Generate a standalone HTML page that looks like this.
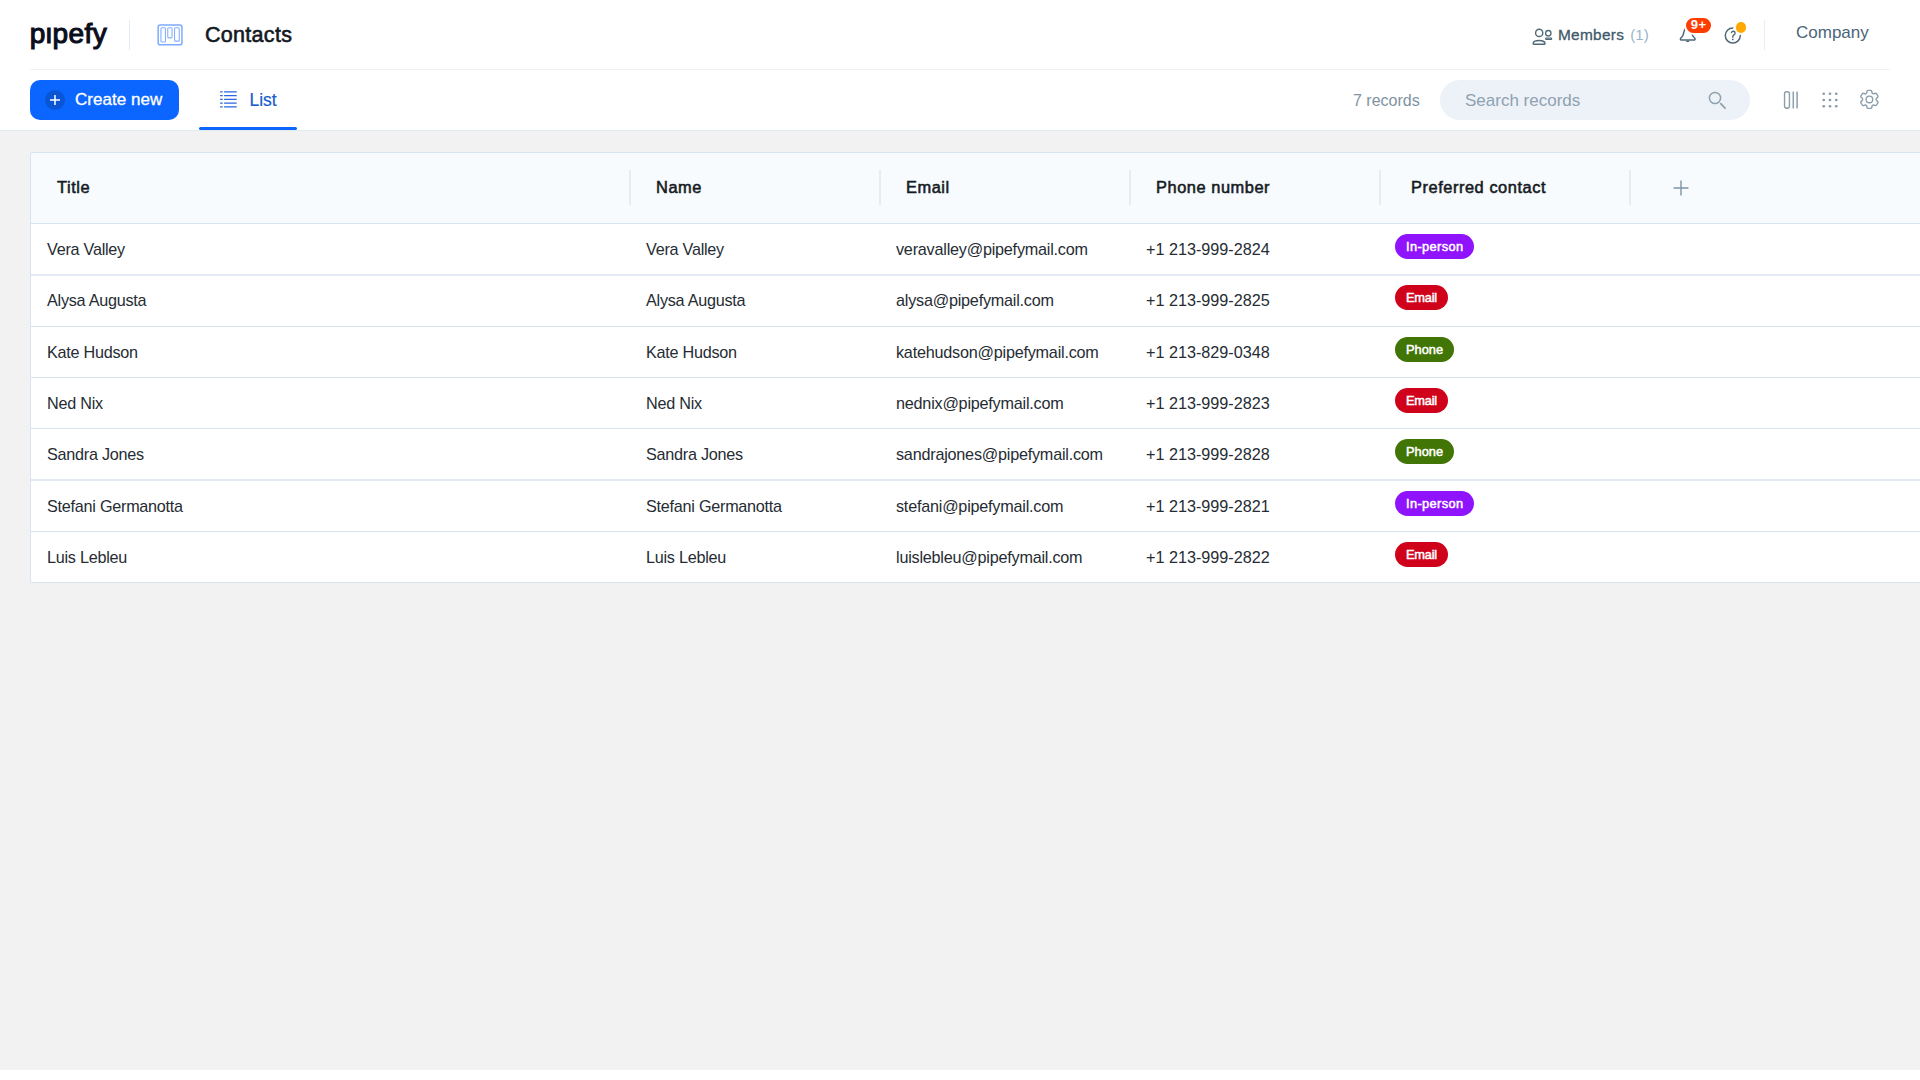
<!DOCTYPE html>
<html><head><meta charset="utf-8"><title>Contacts</title>
<style>
*{box-sizing:border-box;margin:0;padding:0}
html,body{width:1920px;height:1080px;overflow:hidden;background:#fff;font-family:"Liberation Sans",Arial,sans-serif;}
.abs{position:absolute}
#nav{position:absolute;left:0;top:0;width:1920px;height:70px;background:#fff}
#navline{position:absolute;left:30px;top:69px;width:1860px;height:1px;background:#eef2f7}
#logo{position:absolute;left:29.8px;top:14px;font-weight:400;font-size:28px;-webkit-text-stroke:1.1px #0b0d1c;letter-spacing:.45px;color:#0b0d1c;line-height:40px}
#logo .nd{display:inline-block;clip-path:inset(12px 0 0 0)}
#sep1{position:absolute;left:129px;top:20px;width:1px;height:30px;background:#e3edf9}
#title{position:absolute;left:205px;top:20px;font-weight:400;font-size:21.5px;-webkit-text-stroke:.6px #141821;letter-spacing:.3px;color:#141821;line-height:30px}
#toolbar{position:absolute;left:0;top:70px;width:1920px;height:61px;background:#fff;border-bottom:1px solid #e1ebf2}
#create{position:absolute;left:30px;top:80px;width:149px;height:40px;border-radius:10px;background:#0b66ff}
#create .c{position:absolute;left:15px;top:10px;width:20px;height:20px;border-radius:50%;background:#0a55d4}
#create .t{position:absolute;left:45px;top:0;line-height:40px;font-size:17px;-webkit-text-stroke:.3px #fff;letter-spacing:.05px;color:#fff}
#list{position:absolute;left:249.5px;top:84.5px;font-size:17.5px;-webkit-text-stroke:.2px #1a5ccc;color:#1a5ccc;line-height:30px}
#uline{position:absolute;left:199px;top:127px;width:98px;height:3px;border-radius:2px;background:#0b66ff}
#main{position:absolute;left:0;top:131px;width:1920px;height:939px;background:#f2f2f2}
#recs{position:absolute;left:1353px;top:86px;font-size:16px;color:#8093a2;line-height:30px}
#search{position:absolute;left:1440px;top:80px;width:310px;height:40px;border-radius:20px;background:#edf1f8}
#search .t{position:absolute;left:25px;top:1px;line-height:40px;font-size:17px;color:#8ea2b1}
#members{position:absolute;left:1558px;top:20px;font-size:15.4px;font-weight:400;-webkit-text-stroke:.32px #3f5a6b;letter-spacing:.3px;color:#3f5a6b;line-height:30px}
#members span{-webkit-text-stroke:0;letter-spacing:0;font-size:15px;color:#9bb5c8;margin-left:1.5px}
#company{position:absolute;left:1796px;top:18px;font-size:17px;color:#4a657a;line-height:30px}
#sep2{position:absolute;left:1764px;top:20px;width:1px;height:30px;background:#e6edf7}
#badge{position:absolute;left:1684px;top:15.8px;width:29px;height:19.2px;border:2px solid #fff;border-radius:10px;background:#ff3d00;color:#fff;font-size:13px;font-weight:700;line-height:13.8px;text-align:center;letter-spacing:.6px;text-indent:.6px}
#dot{position:absolute;left:1735.85px;top:22.3px;width:10.3px;height:10.3px;border-radius:50%;background:#ffa800}
/* table */
#tbl{position:absolute;left:30px;top:152px;width:1900px;background:#fff;border:1px solid #d7e3ee;border-right:none;border-radius:2px 0 0 2px;}
#thead{position:relative;height:71px;background:#f7fbfe;border-bottom:1px solid #d7e3ee}
.th{position:absolute;top:0;line-height:69px;font-size:16.4px;font-weight:400;-webkit-text-stroke:.55px #151a22;letter-spacing:.55px;color:#151a22}
.hs{position:absolute;top:17px;width:2px;height:35px;background:#e9ecef}
.row{position:relative;height:51.333px}
.ln{position:absolute;left:0;right:0;height:1px}
.row:nth-child(7){height:50.4px}
.td{position:absolute;top:0;height:100%;display:flex;align-items:center;font-size:16.2px;letter-spacing:-.25px;color:#262c33;white-space:nowrap}
.bd{position:absolute;top:10px;height:25px;border-radius:13px;color:#fff;font-size:12.8px;font-weight:400;-webkit-text-stroke:.5px #fff;line-height:25px;padding:0 11px}
.ip{background:#9013fe;letter-spacing:.38px}.em{background:#d0021b;letter-spacing:-.2px}.ph{background:#417505;letter-spacing:0px}
</style></head><body>
<div id="nav">
  <div id="logo">p<span class="nd">i</span>pefy</div>
  <div id="sep1"></div>
  <svg class="abs" style="left:156px;top:23px" width="28" height="24" viewBox="0 0 28 24">
    <rect x="2.15" y="1.95" width="23.8" height="19.9" rx="2.2" fill="none" stroke="#7eaaff" stroke-width="1.5"/>
    <rect x="4.95" y="4.75" width="4.5" height="14.3" rx="1" fill="none" stroke="#86afff" stroke-width="1.1"/>
    <rect x="11.75" y="4.75" width="4.3" height="10.1" rx="1" fill="none" stroke="#86afff" stroke-width="1.1"/>
    <rect x="18.55" y="4.75" width="4.7" height="13.4" rx="1" fill="none" stroke="#86afff" stroke-width="1.1"/>
  </svg>
  <div id="title">Contacts</div>

  <svg class="abs" style="left:1531px;top:27px" width="23" height="19" viewBox="0 0 23 19">
    <circle cx="8.2" cy="5.9" r="3.6" fill="none" stroke="#4f6878" stroke-width="1.4"/>
    <path d="M2.2 16.4C2.2 14.6 4.9 13.5 8.1 13.5S14 14.6 14 16.4c0 .5-.3.8-.8.8H3c-.5 0-.8-.3-.8-.8z" fill="none" stroke="#4f6878" stroke-width="1.4"/>
    <circle cx="17.3" cy="6.2" r="2.7" fill="none" stroke="#4f6878" stroke-width="1.3"/>
    <rect x="14.6" y="11.2" width="6.1" height="1.3" rx=".65" fill="none" stroke="#4f6878" stroke-width="1.2"/>
  </svg>
  <div id="members">Members <span>(1)</span></div>

  <svg class="abs" style="left:1677px;top:20px" width="22" height="24" viewBox="0 0 22 24">
    <path d="M4.8 20.1H16.7C17.9 20.1 18.5 19.2 17.9 18.3C17.2 17.3 15.8 16.6 15.5 15.2L14.2 10.6C13.8 9.2 12.9 7.4 10.75 7.4C8.6 7.4 7.7 9.2 7.3 10.6L6 15.2C5.7 16.6 4.3 17.3 3.6 18.3C3 19.2 3.6 20.1 4.8 20.1Z" fill="none" stroke="#4f6878" stroke-width="1.5" stroke-linejoin="round"/>
    <path d="M8.9 20.6h3.6a1.8 1.7 0 0 1-3.6 0z" fill="#4f6878"/>
  </svg>
  <div id="badge">9+</div>

  <svg class="abs" style="left:1723px;top:25px" width="22" height="22" viewBox="0 0 22 22">
    <path d="M9.8 3.1A7.5 7.5 0 1 0 17.3 10.6" fill="none" stroke="#4f6878" stroke-width="1.5" stroke-linecap="round"/>
    <path d="M8.4 7.6C8.7 6.7 9.4 6.2 10.2 6.2C11.3 6.2 12.1 7 12.1 8.2C12.1 9.5 10.9 9.9 10.2 10.5C9.9 10.8 9.8 11.3 9.8 12.2" fill="none" stroke="#4f6878" stroke-width="1.35" stroke-linecap="round"/>
    <circle cx="9.8" cy="14.4" r=".85" fill="#4f6878"/>
  </svg>
  <div id="dot"></div>
  <div id="sep2"></div>
  <div id="company">Company</div>
  <div id="navline"></div>
</div>

<div id="toolbar"></div>
<div id="create"><div class="c"><svg class="abs" style="left:5px;top:5px" width="10" height="10" viewBox="0 0 10 10"><path d="M5 0v10M0 5h10" stroke="#fff" stroke-width="1.5"/></svg></div><div class="t">Create new</div></div>
<svg class="abs" style="left:219px;top:90px" width="19" height="19" viewBox="0 0 19 19">
  <g stroke="#2a66dc" stroke-width="1.25">
    <path d="M1.1 1.75h2.6M5.1 1.75h12.6M1.1 5.5h2.6M5.1 5.5h12.6M1.1 9.4h2.6M5.1 9.4h12.6M1.1 13.1h2.6M5.1 13.1h12.6M1.1 16.8h2.6M5.1 16.8h12.6"/>
  </g>
</svg>
<div id="list">List</div>
<div id="uline"></div>

<div id="recs">7 records</div>
<div id="search"><div class="t">Search records</div>
  <svg class="abs" style="left:268px;top:10.5px" width="20" height="20" viewBox="0 0 20 20">
    <circle cx="7" cy="7" r="5.6" fill="none" stroke="#8ea1ad" stroke-width="1.5"/>
    <path d="M12.7 12.7l4.4 4.4" stroke="#8ea1ad" stroke-width="1.7" stroke-linecap="round"/>
  </svg>
</div>
<svg class="abs" style="left:1782px;top:90px" width="18" height="20" viewBox="0 0 18 20">
  <rect x="2.55" y="1.8" width="4.9" height="16.4" rx="2.1" fill="none" stroke="#8a9eab" stroke-width="1.4"/>
  <path d="M11.3 1.5v17M15.1 1.5v17" stroke="#8a9eab" stroke-width="1.5"/>
</svg>
<svg class="abs" style="left:1820px;top:90px" width="20" height="20" viewBox="0 0 20 20">
  <g fill="#869aa7">
    <circle cx="3.75" cy="3.75" r="1.35"/><circle cx="10" cy="3.75" r="1.35"/><circle cx="16.25" cy="3.75" r="1.35"/>
    <circle cx="3.75" cy="10" r="1.35"/><circle cx="10" cy="10" r="1.35"/><circle cx="16.25" cy="10" r="1.35"/>
    <circle cx="3.75" cy="16.25" r="1.35"/><circle cx="10" cy="16.25" r="1.35"/><circle cx="16.25" cy="16.25" r="1.35"/>
  </g>
</svg>
<svg class="abs" style="left:1857px;top:87px" width="25" height="25" viewBox="-0.4 -0.4 25 25">
  <path fill="none" stroke="#8a9eab" stroke-width="1.4" stroke-linejoin="round" d="M9.594 3.94c.09-.542.56-.94 1.11-.94h2.593c.55 0 1.02.398 1.11.94l.213 1.281c.063.374.313.686.645.87.074.04.147.083.22.127.325.196.72.257 1.075.124l1.217-.456a1.125 1.125 0 0 1 1.37.49l1.296 2.247a1.125 1.125 0 0 1-.26 1.431l-1.003.827c-.293.241-.438.613-.43.992a7.723 7.723 0 0 1 0 .255c-.008.378.137.75.43.991l1.004.827c.424.35.534.955.26 1.43l-1.298 2.247a1.125 1.125 0 0 1-1.369.491l-1.217-.456c-.355-.133-.75-.072-1.076.124a6.47 6.47 0 0 1-.22.128c-.331.183-.581.495-.644.869l-.213 1.281c-.09.543-.56.94-1.11.94h-2.594c-.55 0-1.019-.398-1.11-.94l-.213-1.281c-.062-.374-.312-.686-.644-.87a6.52 6.52 0 0 1-.22-.127c-.325-.196-.72-.257-1.076-.124l-1.217.456a1.125 1.125 0 0 1-1.369-.49l-1.297-2.247a1.125 1.125 0 0 1 .26-1.431l1.004-.827c.292-.24.437-.613.43-.991a6.932 6.932 0 0 1 0-.255c.007-.38-.138-.751-.43-.992l-1.004-.827a1.125 1.125 0 0 1-.26-1.43l1.297-2.247a1.125 1.125 0 0 1 1.37-.491l1.216.456c.356.133.751.072 1.076-.124.072-.044.146-.086.22-.128.332-.183.582-.495.644-.869l.214-1.28Z"/>
  <circle cx="12" cy="12" r="3.3" fill="none" stroke="#8a9eab" stroke-width="1.4"/>
</svg>

<div id="main"></div>

<div id="tbl">
  <div id="thead">
    <div class="th" style="left:26px">Title</div>
    <div class="hs" style="left:598px"></div>
    <div class="th" style="left:625px">Name</div>
    <div class="hs" style="left:848px"></div>
    <div class="th" style="left:875px">Email</div>
    <div class="hs" style="left:1098px"></div>
    <div class="th" style="left:1125px">Phone number</div>
    <div class="hs" style="left:1348px"></div>
    <div class="th" style="left:1380px">Preferred contact</div>
    <div class="hs" style="left:1598px"></div>
    <svg class="abs" style="left:1641.7px;top:26.7px" width="16" height="16" viewBox="0 0 16 16"><path d="M8 .5v15M.5 8h15" stroke="#7d95a3" stroke-width="1.4"/></svg>
  </div>
  <div id="rows">
<div class="row"><div class="td" style="left:16px">Vera Valley</div><div class="td" style="left:615px">Vera Valley</div><div class="td" style="left:865px;letter-spacing:-.22px">veravalley@pipefymail.com</div><div class="td" style="left:1115px;letter-spacing:0px">+1 213-999-2824</div><div class="bd ip" style="left:1364px">In-person</div></div>
<div class="row"><div class="td" style="left:16px">Alysa Augusta</div><div class="td" style="left:615px">Alysa Augusta</div><div class="td" style="left:865px;letter-spacing:-.22px">alysa@pipefymail.com</div><div class="td" style="left:1115px;letter-spacing:0px">+1 213-999-2825</div><div class="bd em" style="left:1364px">Email</div></div>
<div class="row"><div class="td" style="left:16px">Kate Hudson</div><div class="td" style="left:615px">Kate Hudson</div><div class="td" style="left:865px;letter-spacing:-.22px">katehudson@pipefymail.com</div><div class="td" style="left:1115px;letter-spacing:0px">+1 213-829-0348</div><div class="bd ph" style="left:1364px">Phone</div></div>
<div class="row"><div class="td" style="left:16px">Ned Nix</div><div class="td" style="left:615px">Ned Nix</div><div class="td" style="left:865px;letter-spacing:-.22px">nednix@pipefymail.com</div><div class="td" style="left:1115px;letter-spacing:0px">+1 213-999-2823</div><div class="bd em" style="left:1364px">Email</div></div>
<div class="row"><div class="td" style="left:16px">Sandra Jones</div><div class="td" style="left:615px">Sandra Jones</div><div class="td" style="left:865px;letter-spacing:-.22px">sandrajones@pipefymail.com</div><div class="td" style="left:1115px;letter-spacing:0px">+1 213-999-2828</div><div class="bd ph" style="left:1364px">Phone</div></div>
<div class="row"><div class="td" style="left:16px">Stefani Germanotta</div><div class="td" style="left:615px">Stefani Germanotta</div><div class="td" style="left:865px;letter-spacing:-.22px">stefani@pipefymail.com</div><div class="td" style="left:1115px;letter-spacing:0px">+1 213-999-2821</div><div class="bd ip" style="left:1364px">In-person</div></div>
<div class="row"><div class="td" style="left:16px">Luis Lebleu</div><div class="td" style="left:615px">Luis Lebleu</div><div class="td" style="left:865px;letter-spacing:-.22px">luislebleu@pipefymail.com</div><div class="td" style="left:1115px;letter-spacing:0px">+1 213-999-2822</div><div class="bd em" style="left:1364px">Email</div></div><!--/ROWS-->
<div class="ln" style="top:121px;background:#e4ebf4"></div><div class="ln" style="top:122px;background:#e4ebf4"></div><div class="ln" style="top:173px;background:#d6e2ee"></div><div class="ln" style="top:224px;background:#dae5ef"></div><div class="ln" style="top:275px;background:#d8e4ef"></div><div class="ln" style="top:326px;background:#e4ebf4"></div><div class="ln" style="top:327px;background:#e4ebf4"></div><div class="ln" style="top:378px;background:#d6e2ee"></div>
</div>
</div>
</body></html>
